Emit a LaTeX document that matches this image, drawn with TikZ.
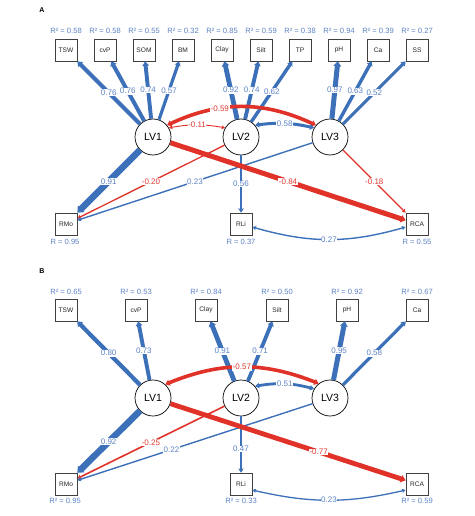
\documentclass[tikz,border=0pt]{standalone}
\usepackage{fontspec}
\setmainfont{Liberation Sans}
\usetikzlibrary{arrows.meta}
\definecolor{pblue}{RGB}{60,112,184}
\definecolor{tblue}{RGB}{92,130,198}
\definecolor{pred}{RGB}{224,50,40}
\definecolor{tred}{RGB}{224,58,48}
\begin{document}
\begin{tikzpicture}[x=1pt,y=-1pt,
  >={Stealth[length=3.2pt 0.35,width=2.8pt 1,inset=0.6pt]},
  ind/.style={draw=black!75,fill=white,line width=0.7pt,minimum size=22pt,inner sep=0pt,font=\fontsize{6.6}{8}\selectfont,text=black!85},
  lv/.style={draw=black,fill=white,line width=0.7pt,circle,minimum size=36pt,inner sep=0pt,font=\fontsize{10.5}{12}\selectfont},
  rsq/.style={text=tblue,font=\fontsize{7.6}{9}\selectfont,inner sep=0pt},
  pl/.style={font=\bfseries\fontsize{7}{8}\selectfont,inner sep=0pt},
  bl/.style={draw=pblue,line width=#1,->},
  rd/.style={draw=pred,line width=#1,->},
  lab/.style={fill=white,inner sep=0.6pt,font=\fontsize{8}{9}\selectfont,text=tblue},
  labr/.style={lab,text=tred},
]
\useasboundingbox (0,0) rectangle (474,516);

% ---------------- Panel A ----------------
\node[pl] (pA) at (42,10) {A};
\node[ind] (aTSW) at (66,50) {TSW};
\node[ind] (acvP) at (105,50) {cvP};
\node[ind] (aSOM) at (144,50) {SOM};
\node[ind] (aBM) at (183,50) {BM};
\node[ind] (aClay) at (222,50) {Clay};
\node[ind] (aSilt) at (261,50) {Silt};
\node[ind] (aTP) at (300,50) {TP};
\node[ind] (apH) at (339,50) {pH};
\node[ind] (aCa) at (378,50) {Ca};
\node[ind] (aSS) at (417,50) {SS};
\node[rsq] (raTSW) at (66,31) {R² = 0.58};
\node[rsq] (racvP) at (105,31) {R² = 0.58};
\node[rsq] (raSOM) at (144,31) {R² = 0.55};
\node[rsq] (raBM) at (183,31) {R² = 0.32};
\node[rsq] (raClay) at (222,31) {R² = 0.85};
\node[rsq] (raSilt) at (261,31) {R² = 0.59};
\node[rsq] (raTP) at (300,31) {R² = 0.38};
\node[rsq] (rapH) at (339,31) {R² = 0.94};
\node[rsq] (raCa) at (378,31) {R² = 0.39};
\node[rsq] (raSS) at (417,31) {R² = 0.27};

\node[lv] (a1) at (153,137) {LV1};
\node[lv] (a2) at (241,137) {LV2};
\node[lv] (a3) at (330,137) {LV3};

\node[ind] (aRMo) at (66,224) {RMo};
\node[ind] (aRLi) at (241,224) {RLi};
\node[ind] (aRCA) at (417,224) {RCA};
\node[rsq] (raRMo) at (65,242) {R = 0.95};
\node[rsq] (raRLi) at (241,242) {R = 0.37};
\node[rsq] (raRCA) at (417,242) {R = 0.55};

\draw[bl=4pt] (a1) -- node[lab]{0.76} (aTSW);
\draw[bl=4pt] (a1) -- node[lab]{0.76} (acvP);
\draw[bl=3.9pt] (a1) -- node[lab]{0.74} (aSOM);
\draw[bl=3.2pt] (a1) -- node[lab]{0.57} (aBM);
\draw[bl=4.8pt] (a2) -- node[lab]{0.92} (aClay);
\draw[bl=3.9pt] (a2) -- node[lab]{0.74} (aSilt);
\draw[bl=3.4pt] (a2) -- node[lab]{0.62} (aTP);
\draw[bl=5pt] (a3) -- node[lab]{0.97} (apH);
\draw[bl=3.4pt] (a3) -- node[lab]{0.63} (aCa);
\draw[bl=3pt] (a3) -- node[lab]{0.52} (aSS);

\draw[rd=3.6pt,<->] (a1.40) to[bend left=25] node[labr,pos=0.35]{-0.59} (a3.140);
\draw[rd=0.9pt,<->] (a1.30) to[bend left=10] node[labr]{-0.11} (a2.150);
\draw[bl=3pt,<->] (a2.40) to[bend left=10] node[lab]{0.58} (a3.150);

\draw[bl=6.5pt] (a1) -- node[lab]{0.91} (aRMo);
\draw[rd=1.3pt] (a2) -- node[labr]{-0.20} (aRMo);
\draw[bl=1.4pt] (a3) -- node[lab]{0.23} (aRMo);
\draw[bl=2.8pt] (a2) -- node[lab]{0.56} (aRLi);
\draw[rd=5pt] (a1) -- node[labr]{-0.84} (aRCA);
\draw[rd=1.2pt] (a3) -- node[labr]{-0.18} (aRCA);
\draw[bl=1.4pt,<->] (aRLi.-15) to[bend right=16] node[lab]{0.27} (aRCA.195);

% ---------------- Panel B ----------------
\node[pl] (pB) at (42,271) {B};
\node[ind] (bTSW) at (66,310) {TSW};
\node[ind] (bcvP) at (136,310) {cvP};
\node[ind] (bClay) at (206,310) {Clay};
\node[ind] (bSilt) at (277,310) {Silt};
\node[ind] (bpH) at (347,310) {pH};
\node[ind] (bCa) at (417,310) {Ca};
\node[rsq] (rbTSW) at (66,292) {R² = 0.65};
\node[rsq] (rbcvP) at (136,292) {R² = 0.53};
\node[rsq] (rbClay) at (206,292) {R² = 0.84};
\node[rsq] (rbSilt) at (277,292) {R² = 0.50};
\node[rsq] (rbpH) at (347,292) {R² = 0.92};
\node[rsq] (rbCa) at (417,292) {R² = 0.67};

\node[lv] (b1) at (153,398) {LV1};
\node[lv] (b2) at (241,398) {LV2};
\node[lv] (b3) at (330,398) {LV3};

\node[ind] (bRMo) at (66,484) {RMo};
\node[ind] (bRLi) at (241,484) {RLi};
\node[ind] (bRCA) at (417,484) {RCA};
\node[rsq] (rbRMo) at (65,501) {R² = 0.95};
\node[rsq] (rbRLi) at (241,501) {R² = 0.33};
\node[rsq] (rbRCA) at (417,501) {R² = 0.59};

\draw[bl=4.2pt] (b1) -- node[lab]{0.80} (bTSW);
\draw[bl=3.9pt] (b1) -- node[lab]{0.73} (bcvP);
\draw[bl=4.8pt] (b2) -- node[lab]{0.91} (bClay);
\draw[bl=3.8pt] (b2) -- node[lab]{0.71} (bSilt);
\draw[bl=5pt] (b3) -- node[lab]{0.95} (bpH);
\draw[bl=3.2pt] (b3) -- node[lab]{0.58} (bCa);

\draw[rd=3.6pt,<->] (b1.48) to[bend left=22] node[labr,pos=0.5]{-0.57} (b3.128);
\draw[bl=2.8pt,<->] (b2.40) to[bend left=12] node[lab]{0.51} (b3.150);

\draw[bl=6.5pt] (b1) -- node[lab]{0.92} (bRMo);
\draw[rd=1.6pt] (b2) -- node[labr]{-0.25} (bRMo);
\draw[bl=1.4pt] (b3) -- node[lab,pos=0.6]{0.22} (bRMo);
\draw[bl=2.5pt] (b2) -- node[lab,pos=0.58]{0.47} (bRLi);
\draw[rd=4.8pt] (b1) -- node[labr,pos=0.63]{-0.77} (bRCA);
\draw[bl=1.3pt,<->] (bRLi.-28) to[bend right=13] node[lab]{0.23} (bRCA.208);
\end{tikzpicture}
\end{document}
